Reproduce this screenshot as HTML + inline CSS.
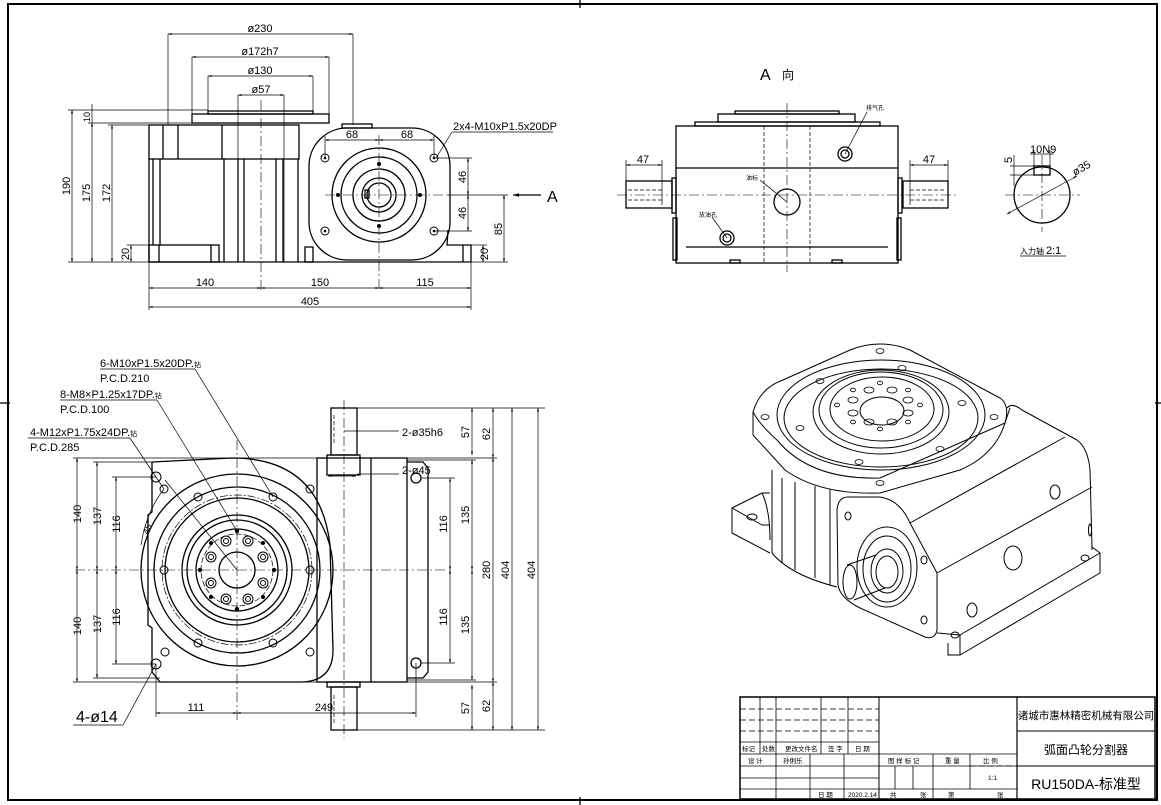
<!DOCTYPE html>
<html><head><meta charset="utf-8"><style>
html,body{margin:0;padding:0;background:#fff}
svg{display:block}
text{font-family:"Liberation Sans","Noto Sans CJK SC",sans-serif;fill:#000}
.d{stroke:#000;stroke-width:.7;fill:none}
.o{stroke:#000;stroke-width:1.3;fill:none}
.c{stroke:#000;stroke-width:.6;fill:none;stroke-dasharray:10 3 2 3}
.h{stroke:#000;stroke-width:.7;fill:none;stroke-dasharray:4 2}
.t{font-size:11px}
</style></head><body>
<svg width="1161" height="805" viewBox="0 0 1161 805" xmlns="http://www.w3.org/2000/svg">
<defs>
<marker id="a" viewBox="0 0 10 10" refX="10" refY="5" markerWidth="7" markerHeight="5" orient="auto-start-reverse"><path d="M0,2 L10,5 L0,8z" fill="#000"/></marker>
</defs>
<rect x="8" y="4" width="1149" height="796" fill="none" stroke="#000" stroke-width="2"/>
<line x1="580" y1="0" x2="580" y2="8" class="o"/><line x1="580" y1="797" x2="580" y2="805" class="o"/>
<line x1="0" y1="403" x2="10" y2="403" class="o"/><line x1="1155" y1="403" x2="1161" y2="403" class="o"/>

<!-- ===== TOP-LEFT VIEW ===== -->
<g>
<rect x="208" y="111" width="105" height="3" class="o"/>
<rect x="192" y="114" width="137" height="9" class="o"/>
<rect x="149" y="125" width="150" height="34" class="o"/>
<line x1="149" y1="159" x2="149" y2="262" class="o"/>
<line x1="149" y1="262" x2="471" y2="262" class="o"/>
<rect x="149" y="245" width="70" height="17" class="o"/>
<line x1="159" y1="245" x2="159" y2="262" class="o"/><line x1="211" y1="245" x2="211" y2="262" class="o"/>
<line x1="163" y1="125" x2="163" y2="159" class="o"/><line x1="178" y1="125" x2="178" y2="159" class="o"/>
<line x1="222" y1="125" x2="222" y2="159" class="o"/>
<line x1="153" y1="159" x2="153" y2="245" class="o"/><line x1="160" y1="159" x2="160" y2="245" class="o"/>
<line x1="224" y1="159" x2="224" y2="262" class="o"/><line x1="238" y1="159" x2="238" y2="262" class="o"/>
<line x1="244" y1="159" x2="244" y2="262" class="o"/><line x1="276" y1="159" x2="276" y2="262" class="o"/>
<line x1="283" y1="159" x2="283" y2="262" class="o"/><line x1="298" y1="159" x2="298" y2="262" class="o"/>
<rect x="305" y="247" width="8" height="15" class="o"/>
<rect x="342" y="124" width="30" height="4" class="o"/>
<rect x="309" y="128" width="141" height="132" rx="38" class="o" fill="#fff"/>
<path d="M448,230 L447,245 L471,245 L471,262 M463,245 L463,262" class="o"/>
<circle cx="379" cy="195" r="47" class="o"/>
<circle cx="379" cy="195" r="38" class="o"/>
<circle cx="379" cy="195" r="26" class="o"/>
<circle cx="379" cy="195" r="17" class="o"/>
<circle cx="379" cy="195" r="12" class="o"/>
<rect x="365" y="190" width="4" height="8" class="o"/>
<g fill="none" stroke="#000"><circle cx="325" cy="158" r="4"/><circle cx="434" cy="158" r="4"/><circle cx="325" cy="231" r="4"/><circle cx="434" cy="231" r="4"/></g>
<g fill="#000"><circle cx="325" cy="158" r="1.3"/><circle cx="434" cy="158" r="1.3"/><circle cx="325" cy="231" r="1.3"/><circle cx="434" cy="231" r="1.3"/>
<circle cx="379" cy="164" r="2"/><circle cx="379" cy="226" r="2"/><circle cx="338" cy="195" r="2"/><circle cx="420" cy="195" r="2"/></g>
<line x1="261" y1="100" x2="261" y2="290" class="c"/>
<line x1="379" y1="135" x2="379" y2="290" class="c"/>
<line x1="325" y1="195" x2="448" y2="195" class="c"/>
<g class="d">
<line x1="168" y1="34" x2="168" y2="125"/><line x1="353" y1="34" x2="353" y2="125"/>
<line x1="192" y1="57" x2="192" y2="114"/><line x1="329" y1="57" x2="329" y2="114"/>
<line x1="208" y1="76" x2="208" y2="111"/><line x1="313" y1="76" x2="313" y2="111"/>
<line x1="238" y1="95" x2="238" y2="262"/><line x1="284" y1="95" x2="284" y2="262"/>
<line x1="168" y1="34" x2="353" y2="34" marker-start="url(#a)" marker-end="url(#a)"/>
<line x1="192" y1="57" x2="329" y2="57" marker-start="url(#a)" marker-end="url(#a)"/>
<line x1="208" y1="76" x2="313" y2="76" marker-start="url(#a)" marker-end="url(#a)"/>
<line x1="238" y1="95" x2="284" y2="95" marker-start="url(#a)" marker-end="url(#a)"/>
<line x1="68" y1="110" x2="208" y2="110"/><line x1="88" y1="123" x2="192" y2="123"/><line x1="108" y1="125" x2="149" y2="125"/>
<line x1="68" y1="262" x2="149" y2="262"/><line x1="127" y1="245" x2="149" y2="245"/>
<line x1="72" y1="110" x2="72" y2="262" marker-start="url(#a)" marker-end="url(#a)"/>
<line x1="92" y1="123" x2="92" y2="262" marker-start="url(#a)" marker-end="url(#a)"/>
<line x1="92" y1="104" x2="92" y2="123"/>
<line x1="112" y1="125" x2="112" y2="262" marker-start="url(#a)" marker-end="url(#a)"/>
<line x1="131" y1="245" x2="131" y2="262" marker-start="url(#a)" marker-end="url(#a)"/>
<line x1="325" y1="136" x2="325" y2="158"/><line x1="434" y1="136" x2="434" y2="158"/>
<line x1="325" y1="140" x2="379" y2="140" marker-start="url(#a)" marker-end="url(#a)"/>
<line x1="379" y1="140" x2="434" y2="140" marker-start="url(#a)" marker-end="url(#a)"/>
<line x1="434" y1="158" x2="472" y2="158"/><line x1="434" y1="231" x2="472" y2="231"/>
<line x1="468" y1="158" x2="468" y2="195" marker-start="url(#a)" marker-end="url(#a)"/>
<line x1="468" y1="195" x2="468" y2="231" marker-start="url(#a)" marker-end="url(#a)"/>
<line x1="448" y1="195" x2="508" y2="195"/>
<line x1="504" y1="195" x2="504" y2="262" marker-start="url(#a)" marker-end="url(#a)"/>
<line x1="471" y1="262" x2="508" y2="262"/><line x1="471" y1="245" x2="487" y2="245"/>
<line x1="483" y1="245" x2="483" y2="262" marker-start="url(#a)" marker-end="url(#a)"/>
<line x1="149" y1="262" x2="149" y2="310"/><line x1="471" y1="262" x2="471" y2="310"/>
<line x1="149" y1="288" x2="261" y2="288" marker-start="url(#a)" marker-end="url(#a)"/>
<line x1="261" y1="288" x2="379" y2="288" marker-start="url(#a)" marker-end="url(#a)"/>
<line x1="379" y1="288" x2="471" y2="288" marker-start="url(#a)" marker-end="url(#a)"/>
<line x1="149" y1="307" x2="471" y2="307" marker-start="url(#a)" marker-end="url(#a)"/>
<line x1="436" y1="158" x2="452" y2="132"/><line x1="452" y1="132" x2="553" y2="132"/>
</g>
<line x1="541" y1="195" x2="513" y2="195" stroke="#000" stroke-width="1.2" marker-end="url(#a)"/>
<text x="547" y="202" font-size="16">A</text>
<g class="t" text-anchor="middle">
<text x="260" y="32">ø230</text><text x="260" y="55">ø172h7</text><text x="260" y="74">ø130</text><text x="261" y="93">ø57</text>
<text x="352" y="138">68</text><text x="407" y="138">68</text>
<text x="205" y="286">140</text><text x="320" y="286">150</text><text x="425" y="286">115</text><text x="310" y="305">405</text>
</g>
<text x="453" y="130" class="t">2x4-M10xP1.5x20DP</text>
<g class="t" text-anchor="middle">
<text transform="translate(70,186) rotate(-90)">190</text>
<text transform="translate(90,193) rotate(-90)">175</text>
<text transform="translate(110,193) rotate(-90)">172</text>
<text transform="translate(90,117) rotate(-90)" font-size="9">10</text>
<text transform="translate(129,254) rotate(-90)">20</text>
<text transform="translate(466,177) rotate(-90)">46</text>
<text transform="translate(466,213) rotate(-90)">46</text>
<text transform="translate(502,229) rotate(-90)">85</text>
<text transform="translate(488,254) rotate(-90)">20</text>
</g>
</g>

<!-- ===== A VIEW ===== -->
<g>
<text x="760" y="80" font-size="16">A</text><text x="782" y="79" font-size="12">向</text>
<rect x="735" y="111" width="104" height="3" class="o"/>
<rect x="718" y="114" width="137" height="8" class="o"/>
<rect x="695" y="122" width="185" height="4" class="o"/>
<rect x="676" y="126" width="222" height="137" class="o"/>
<line x1="676" y1="168" x2="898" y2="168" class="o"/>
<line x1="686" y1="247" x2="888" y2="247" class="o"/>
<rect x="672" y="178" width="4" height="35" class="o"/><rect x="898" y="178" width="4" height="35" class="o"/>
<rect x="626" y="181" width="46" height="27" class="o"/><rect x="903" y="181" width="45" height="27" class="o"/>
<rect x="673" y="218" width="4" height="42" class="o"/><rect x="897" y="218" width="4" height="42" class="o"/>
<rect x="730" y="260" width="10" height="3" class="o"/><rect x="832" y="260" width="10" height="3" class="o"/>
<line x1="628" y1="190" x2="662" y2="190" class="h"/><line x1="628" y1="200" x2="662" y2="200" class="h"/>
<line x1="910" y1="190" x2="946" y2="190" class="h"/><line x1="910" y1="200" x2="946" y2="200" class="h"/>
<line x1="617" y1="195" x2="957" y2="195" class="c"/>
<line x1="787" y1="103" x2="787" y2="272" class="c"/>
<line x1="764" y1="126" x2="764" y2="263" class="h"/><line x1="810" y1="126" x2="810" y2="263" class="h"/>
<circle cx="787" cy="202" r="13" class="o"/>
<circle cx="845" cy="154" r="7" class="o"/><circle cx="845" cy="154" r="4" class="o"/>
<circle cx="727" cy="238" r="7" class="o"/><circle cx="727" cy="238" r="4" class="o"/>
<g class="d">
<line x1="845" y1="154" x2="867" y2="112"/><line x1="787" y1="202" x2="760" y2="180"/><line x1="727" y1="238" x2="712" y2="217"/>
<line x1="626" y1="160" x2="626" y2="181"/><line x1="662" y1="160" x2="662" y2="205"/>
<line x1="626" y1="165" x2="662" y2="165" marker-start="url(#a)" marker-end="url(#a)"/>
<line x1="910" y1="160" x2="910" y2="205"/><line x1="948" y1="160" x2="948" y2="181"/>
<line x1="910" y1="165" x2="948" y2="165" marker-start="url(#a)" marker-end="url(#a)"/>
</g>
<text x="866" y="110" font-size="6">排气孔</text>
<text x="746" y="180" font-size="6">油标</text>
<text x="699" y="217" font-size="6">放油孔</text>
<text x="643" y="163" class="t" text-anchor="middle">47</text>
<text x="929" y="163" class="t" text-anchor="middle">47</text>
<circle cx="1042" cy="195" r="28" class="o"/>
<rect x="1034" y="166" width="16" height="9" class="o"/>
<line x1="1005" y1="195" x2="1080" y2="195" class="c"/>
<line x1="1042" y1="155" x2="1042" y2="232" class="c"/>
<g class="d">
<line x1="1034" y1="150" x2="1034" y2="166"/><line x1="1050" y1="150" x2="1050" y2="166"/>
<line x1="1030" y1="154" x2="1054" y2="154"/>
<line x1="1010" y1="166" x2="1034" y2="166"/><line x1="1010" y1="175" x2="1034" y2="175"/>
<line x1="1014" y1="155" x2="1014" y2="186"/>
<line x1="1007" y1="214" x2="1077" y2="176" marker-start="url(#a)" marker-end="url(#a)"/>
<line x1="1020" y1="256" x2="1066" y2="256"/>
</g>
<text x="1030" y="153" class="t">10N9</text>
<text transform="translate(1012,163) rotate(-90)" class="t" font-size="10">5</text>
<text transform="translate(1075,176) rotate(-30)" class="t">ø35</text>
<text x="1020" y="254" font-size="8">入力轴</text><text x="1046" y="254" class="t">2:1</text>
</g>

<!-- ===== BOTTOM-LEFT VIEW ===== -->
<g>
<path d="M152,462 L232,458 Q320,458 330,545 L333,650 Q333,682 300,682 L160,682 L152,672 L152,628 L148,625 L148,515 L152,512 Z" class="o"/>
<circle cx="237" cy="570" r="96" class="o"/>
<circle cx="237" cy="570" r="83" class="o"/>
<circle cx="237" cy="570" r="72" class="o"/>
<circle cx="237" cy="570" r="55" class="o"/>
<circle cx="237" cy="570" r="50" class="o"/>
<circle cx="237" cy="570" r="41" class="o"/>
<circle cx="237" cy="570" r="18" class="o"/>
<circle cx="237" cy="570" r="36" class="d" stroke-dasharray="6 2"/>
<circle cx="237" cy="570" r="75" class="d" stroke-dasharray="8 2 2 2"/>
<g fill="none" stroke="#000">
<circle cx="273" cy="497" r="4"/><circle cx="198" cy="497" r="4"/><circle cx="164" cy="570" r="4"/><circle cx="310" cy="570" r="4"/><circle cx="198" cy="643" r="4"/><circle cx="273" cy="643" r="4"/>
<circle cx="164" cy="489" r="4"/><circle cx="310" cy="489" r="4"/><circle cx="310" cy="652" r="4"/><circle cx="165" cy="652" r="4"/>
<circle cx="156" cy="477" r="5"/><circle cx="156" cy="664" r="5"/>
<circle cx="226" cy="541" r="5"/><circle cx="248" cy="541" r="5"/><circle cx="226" cy="599" r="5"/><circle cx="248" cy="599" r="5"/>
<circle cx="211" cy="557" r="5"/><circle cx="263" cy="557" r="5"/><circle cx="211" cy="583" r="5"/><circle cx="263" cy="583" r="5"/>
<circle cx="226" cy="541" r="2.5"/><circle cx="248" cy="541" r="2.5"/><circle cx="226" cy="599" r="2.5"/><circle cx="248" cy="599" r="2.5"/>
<circle cx="211" cy="557" r="2.5"/><circle cx="263" cy="557" r="2.5"/><circle cx="211" cy="583" r="2.5"/><circle cx="263" cy="583" r="2.5"/>
</g>
<g fill="#000">
<circle cx="237" cy="531" r="2.2"/><circle cx="237" cy="609" r="2.2"/><circle cx="200" cy="570" r="2.2"/><circle cx="274" cy="570" r="2.2"/>
<circle cx="211" cy="543" r="2"/><circle cx="263" cy="543" r="2"/><circle cx="211" cy="597" r="2"/><circle cx="263" cy="597" r="2"/>
</g>
<rect x="317" y="458" width="90" height="224" class="o" fill="none"/>
<line x1="371" y1="458" x2="371" y2="682" class="o"/>
<rect x="327" y="455" width="33" height="20" class="o" fill="#fff"/>
<rect x="331" y="408" width="26" height="47" class="o" fill="#fff"/>
<rect x="327" y="682" width="33" height="5" class="o"/>
<rect x="331" y="687" width="26" height="43" class="o"/>
<line x1="334" y1="415" x2="334" y2="445" class="h"/><line x1="334" y1="695" x2="334" y2="725" class="h"/>
<path d="M407,462 L423,462 L428,468 L428,672 L423,678 L407,678" class="o"/>
<circle cx="416" cy="478" r="5" class="o"/><circle cx="416" cy="663" r="5" class="o"/>
<line x1="344" y1="400" x2="344" y2="738" class="c"/>
<line x1="75" y1="570" x2="448" y2="570" class="c"/>
<line x1="237" y1="440" x2="237" y2="720" class="c"/>
<g class="d">
<line x1="73" y1="458" x2="317" y2="458"/><line x1="73" y1="682" x2="317" y2="682"/>
<line x1="93" y1="462" x2="152" y2="462"/><line x1="93" y1="678" x2="160" y2="678"/>
<line x1="112" y1="477" x2="156" y2="477"/><line x1="112" y1="664" x2="156" y2="664"/>
<line x1="77" y1="458" x2="77" y2="570" marker-start="url(#a)" marker-end="url(#a)"/>
<line x1="77" y1="570" x2="77" y2="682" marker-start="url(#a)" marker-end="url(#a)"/>
<line x1="97" y1="462" x2="97" y2="570" marker-start="url(#a)" marker-end="url(#a)"/>
<line x1="97" y1="570" x2="97" y2="678" marker-start="url(#a)" marker-end="url(#a)"/>
<line x1="116" y1="477" x2="116" y2="570" marker-start="url(#a)" marker-end="url(#a)"/>
<line x1="116" y1="570" x2="116" y2="664" marker-start="url(#a)" marker-end="url(#a)"/>
<line x1="357" y1="408" x2="545" y2="408"/><line x1="357" y1="730" x2="545" y2="730"/>
<line x1="360" y1="458" x2="497" y2="458"/><line x1="407" y1="460" x2="476" y2="460"/>
<line x1="360" y1="682" x2="497" y2="682"/><line x1="407" y1="680" x2="476" y2="680"/>
<line x1="421" y1="478" x2="455" y2="478"/><line x1="421" y1="663" x2="455" y2="663"/>
<line x1="450" y1="478" x2="450" y2="570" marker-start="url(#a)" marker-end="url(#a)"/>
<line x1="450" y1="570" x2="450" y2="663" marker-start="url(#a)" marker-end="url(#a)"/>
<line x1="472" y1="408" x2="472" y2="455" marker-start="url(#a)" marker-end="url(#a)"/>
<line x1="472" y1="460" x2="472" y2="570" marker-start="url(#a)" marker-end="url(#a)"/>
<line x1="472" y1="570" x2="472" y2="680" marker-start="url(#a)" marker-end="url(#a)"/>
<line x1="472" y1="685" x2="472" y2="730" marker-start="url(#a)" marker-end="url(#a)"/>
<line x1="493" y1="408" x2="493" y2="458" marker-start="url(#a)" marker-end="url(#a)"/>
<line x1="493" y1="458" x2="493" y2="682" marker-start="url(#a)" marker-end="url(#a)"/>
<line x1="493" y1="682" x2="493" y2="730" marker-start="url(#a)" marker-end="url(#a)"/>
<line x1="512" y1="408" x2="512" y2="730" marker-start="url(#a)" marker-end="url(#a)"/>
<line x1="538" y1="408" x2="538" y2="730" marker-start="url(#a)" marker-end="url(#a)"/>
<line x1="156" y1="664" x2="156" y2="717"/><line x1="416" y1="663" x2="416" y2="717"/>
<line x1="156" y1="713" x2="237" y2="713" marker-start="url(#a)" marker-end="url(#a)"/>
<line x1="237" y1="713" x2="416" y2="713" marker-start="url(#a)" marker-end="url(#a)"/>
<line x1="344" y1="431" x2="399" y2="431"/><line x1="357" y1="474" x2="399" y2="474"/>
<line x1="328" y1="476" x2="356" y2="476" marker-start="url(#a)" marker-end="url(#a)"/>
<line x1="156" y1="664" x2="123" y2="725"/><line x1="123" y1="725" x2="73" y2="725"/>
<line x1="100" y1="369" x2="195" y2="369"/><line x1="195" y1="369" x2="273" y2="497"/>
<line x1="60" y1="400" x2="157" y2="400"/><line x1="157" y1="400" x2="237" y2="531"/>
<line x1="28" y1="438" x2="130" y2="438"/><line x1="130" y1="438" x2="164" y2="489"/>
<line x1="165" y1="480" x2="237" y2="570"/>
<path d="M141,545 Q146,512 164,489"/>
</g>
<text x="100" y="367" class="t">6-M10xP1.5x20DP.<tspan font-size="7">钻</tspan></text>
<text x="100" y="382" class="t">P.C.D.210</text>
<text x="60" y="398" class="t">8-M8×P1.25x17DP.<tspan font-size="7">钻</tspan></text>
<text x="60" y="413" class="t">P.C.D.100</text>
<text x="30" y="436" class="t">4-M12xP1.75x24DP.<tspan font-size="7">钻</tspan></text>
<text x="30" y="451" class="t">P.C.D.285</text>
<text x="76" y="722" font-size="16">4-ø14</text>
<text x="402" y="436" class="t">2-ø35h6</text>
<text x="402" y="474" class="t">2-ø45</text>
<text x="145" y="530" font-size="9" transform="rotate(-70 150 530)">45°</text>
<g class="t" text-anchor="middle">
<text x="196" y="711">111</text><text x="324" y="711">249</text>
<text transform="translate(81,514) rotate(-90)">140</text><text transform="translate(81,626) rotate(-90)">140</text>
<text transform="translate(101,516) rotate(-90)">137</text><text transform="translate(101,624) rotate(-90)">137</text>
<text transform="translate(120,524) rotate(-90)">116</text><text transform="translate(120,617) rotate(-90)">116</text>
<text transform="translate(447,524) rotate(-90)">116</text><text transform="translate(447,617) rotate(-90)">116</text>
<text transform="translate(469,515) rotate(-90)">135</text><text transform="translate(469,625) rotate(-90)">135</text>
<text transform="translate(469,432) rotate(-90)">57</text><text transform="translate(469,708) rotate(-90)">57</text>
<text transform="translate(490,434) rotate(-90)">62</text><text transform="translate(490,706) rotate(-90)">62</text>
<text transform="translate(490,570) rotate(-90)">280</text>
<text transform="translate(509,570) rotate(-90)">404</text>
<text transform="translate(535,570) rotate(-90)">404</text>
</g>
</g>

<!-- ===== 3D VIEW ===== -->
<g stroke="#000" stroke-width="1" fill="none" stroke-linejoin="round">
<!-- box top/side -->
<path d="M1007,408 Q1012,402 1022,410 L1077,440 Q1088,448 1090,470 L1092,547"/>
<path d="M1065,437 L910,523"/>
<path d="M1092,487 L937,573"/>
<path d="M1092,547 L1100,553 L1100,573 L960,655 L948,655 L948,643"/>
<path d="M1100,553 L960,635 L937,633"/>
<path d="M960,635 L960,655"/>
<path d="M1092,547 L1092,550"/>
<ellipse cx="1055" cy="492" rx="5" ry="7"/>
<ellipse cx="1013" cy="558" rx="9" ry="12"/>
<ellipse cx="972" cy="610" rx="5" ry="7"/>
<ellipse cx="955" cy="635" rx="4" ry="3"/><ellipse cx="1085" cy="558" rx="4" ry="3"/>
<ellipse cx="1090" cy="530" rx="1.5" ry="6"/>
<!-- left body -->
<path d="M772,470 L772,553 Q790,575 837,587"/>
<path d="M782,478 L782,563 M795,482 L795,570 M815,486 L815,578 M830,486 L830,585"/>
<path d="M770,493 L762,493 L732,508 L732,533 L770,553 M732,508 L762,525 L770,525"/>
<path d="M762,493 Q770,510 770,540"/>
<ellipse cx="752" cy="517" rx="5" ry="3"/>
<!-- top plate -->
<path d="M753,412 Q760,388 783,380 L850,350 Q880,338 910,350 L1000,398 Q1010,405 1005,423 Q995,455 960,470 L880,493 Q820,495 785,470 L753,435 Z" fill="#fff"/>
<path d="M753,412 Q760,425 777,440 Q810,480 880,478 L1005,423"/>
<ellipse cx="881" cy="415" rx="104" ry="55"/>
<ellipse cx="881" cy="418" rx="97" ry="49"/>
<ellipse cx="881" cy="412" rx="68" ry="42"/>
<ellipse cx="881" cy="410" rx="62" ry="38"/>
<ellipse cx="882" cy="409" rx="52" ry="32"/>
<ellipse cx="882" cy="411" rx="22" ry="14"/>
<g stroke-width=".8">
<ellipse cx="880" cy="351" rx="4" ry="2.5"/><ellipse cx="902" cy="368" rx="4" ry="2.5"/><ellipse cx="820" cy="381" rx="4" ry="2.5"/>
<ellipse cx="765" cy="417" rx="4" ry="2.5"/><ellipse cx="800" cy="428" rx="4" ry="2.5"/><ellipse cx="859" cy="462" rx="4" ry="2.5"/>
<ellipse cx="880" cy="483" rx="4" ry="2.5"/><ellipse cx="940" cy="449" rx="4" ry="2.5"/><ellipse cx="962" cy="403" rx="4" ry="2.5"/>
<ellipse cx="994" cy="417" rx="4" ry="2.5"/>
<ellipse cx="869" cy="390" rx="5" ry="3"/><ellipse cx="892" cy="390" rx="5" ry="3"/><ellipse cx="853" cy="400" rx="5" ry="3"/><ellipse cx="908" cy="400" rx="5" ry="3"/>
<ellipse cx="853" cy="413" rx="5" ry="3"/><ellipse cx="908" cy="413" rx="5" ry="3"/><ellipse cx="869" cy="422" rx="5" ry="3"/><ellipse cx="892" cy="422" rx="5" ry="3"/>
<ellipse cx="853" cy="390" rx="2.5" ry="1.8"/><ellipse cx="908" cy="390" rx="2.5" ry="1.8"/><ellipse cx="880" cy="383" rx="2.5" ry="1.8"/><ellipse cx="837" cy="405" rx="2.5" ry="1.8"/>
<ellipse cx="920" cy="405" rx="2.5" ry="1.8"/><ellipse cx="853" cy="422" rx="2.5" ry="1.8"/><ellipse cx="908" cy="422" rx="2.5" ry="1.8"/><ellipse cx="880" cy="429" rx="2.5" ry="1.8"/>
</g>
<path d="M1005,423 L1010,408"/>
<!-- front flange -->
<path d="M848,497 L880,497 Q900,500 910,523 L937,573 L937,630 Q935,640 925,637 L860,608 Q840,598 838,585 L837,510 Q838,497 848,497 Z" fill="#fff"/>
<ellipse cx="887" cy="567" rx="30" ry="40"/>
<ellipse cx="887" cy="569" rx="24" ry="33"/>
<ellipse cx="887" cy="571" rx="16" ry="22"/>
<ellipse cx="887" cy="572" rx="11" ry="16"/>
<path d="M847,565 L876,555 M854,600 L885,588"/>
<ellipse cx="850" cy="582" rx="7" ry="17" fill="#fff"/>
<ellipse cx="848" cy="516" rx="3" ry="4"/><ellipse cx="924" cy="560" rx="3" ry="4"/><ellipse cx="924" cy="620" rx="3" ry="4"/>
</g>

<!-- ===== TITLE BLOCK ===== -->
<g stroke="#000" fill="none">
<rect x="740" y="697" width="415" height="102" stroke-width="1.5"/>
<line x1="879" y1="697" x2="879" y2="799" stroke-width="1"/>
<line x1="1017" y1="697" x2="1017" y2="799" stroke-width="1.2"/>
<line x1="1017" y1="731" x2="1155" y2="731"/><line x1="1017" y1="766" x2="1155" y2="766"/>
<g stroke-width=".8">
<line x1="740" y1="742" x2="879" y2="742"/><line x1="740" y1="754" x2="1017" y2="754"/>
<line x1="740" y1="766" x2="1017" y2="766"/><line x1="740" y1="778" x2="879" y2="778"/>
<line x1="740" y1="789" x2="1017" y2="789"/>
<line x1="740" y1="709" x2="879" y2="709" stroke-dasharray="6 3"/><line x1="740" y1="720" x2="879" y2="720" stroke-dasharray="6 3"/><line x1="740" y1="731" x2="879" y2="731" stroke-dasharray="6 3"/>
<line x1="760" y1="697" x2="760" y2="754"/><line x1="776" y1="697" x2="776" y2="799"/>
<line x1="821" y1="697" x2="821" y2="754"/><line x1="848" y1="697" x2="848" y2="754"/>
<line x1="810" y1="754" x2="810" y2="799"/><line x1="844" y1="754" x2="844" y2="799"/>
<line x1="933" y1="754" x2="933" y2="799"/><line x1="970" y1="754" x2="970" y2="789"/>
<line x1="895" y1="766" x2="895" y2="789"/><line x1="913" y1="766" x2="913" y2="789"/>
<line x1="970" y1="766" x2="1017" y2="766" stroke-dasharray="6 3"/>
</g>
</g>
<g font-size="6.5" font-family="Liberation Sans,Noto Sans CJK SC,sans-serif">
<text x="742" y="751">标记</text><text x="762" y="751">处数</text><text x="785" y="751">更改文件名</text><text x="828" y="751">签 字</text><text x="855" y="751">日 期</text>
<text x="748" y="763">设 计</text><text x="783" y="763">孙俐乐</text>
<text x="888" y="763">图 样 标 记</text><text x="945" y="763">重 量</text><text x="983" y="763">比 例</text>
<text x="988" y="780">1:1</text>
<text x="818" y="797">日 期</text><text x="848" y="797">2020.2.14</text>
<text x="890" y="797">共</text><text x="920" y="797">张</text><text x="948" y="797">第</text><text x="997" y="797">张</text>
</g>
<text x="1086" y="719" text-anchor="middle" font-size="10.5" font-family="Liberation Serif,Noto Serif CJK SC,serif">诸城市惠林精密机械有限公司</text>
<text x="1086" y="754" text-anchor="middle" font-size="12" font-family="Liberation Serif,Noto Serif CJK SC,serif">弧面凸轮分割器</text>
<text x="1086" y="789" text-anchor="middle" font-size="14" font-family="Liberation Serif,Noto Serif CJK SC,serif">RU150DA-标准型</text>
</svg>
</body></html>
